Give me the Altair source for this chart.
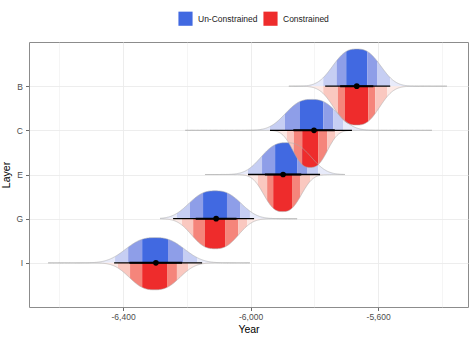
import altair as alt
import numpy as np
import pandas as pd

# ---------------- data ----------------
layers = ["B", "C", "E", "G", "I"]
groups = ["Un-Constrained", "Constrained"]

# Un-Constrained: interval edges (years) 95 / 80 / 50 %
unc_lo95 = [-5772, -5939, -6008, -6231, -6425]
unc_lo80 = [-5730, -5892, -5964, -6190, -6384]
unc_lo50 = [-5700, -5845, -5923, -6149, -6340]
unc_hi50 = [-5634, -5772, -5854, -6074, -6259]
unc_hi80 = [-5602, -5741, -5823, -6033, -6212]
unc_hi95 = [-5562, -5710, -5788, -6002, -6168]
unc_peak = [0.84, 0.70, 0.72, 0.63, 0.57]

# Constrained
con_lo95 = [-5772, -5886, -5977, -6215, -6416]
con_lo80 = [-5726, -5864, -5948, -6180, -6378]
con_lo50 = [-5704, -5838, -5929, -6143, -6340]
con_hi50 = [-5631, -5788, -5870, -6080, -6262]
con_hi80 = [-5609, -5760, -5845, -6039, -6231]
con_hi95 = [-5572, -5735, -5813, -6011, -6196]
con_peak = [0.88, 0.84, 0.84, 0.68, 0.61]

# sample range (thin tails)
tail_lo = [-5880, -6205, -6143, -6284, -6635]
tail_hi = [-5384, -5431, -5704, -5854, -6002]

# point + interval
pt_med = [-5667, -5801, -5898, -6108, -6297]
pi_lo95 = [-5766, -5939, -6008, -6243, -6428]
pi_hi95 = [-5562, -5682, -5782, -5989, -6152]
pi_lo66 = [-5719, -5866, -5955, -6172, -6380]
pi_hi66 = [-5615, -5736, -5841, -6044, -6215]

levels = ["dark", "medium", "light", "tail"]
blue_cols = ["#4169E1", "#8E9EE8", "#C6CEF3", "#E8EBFA"]
red_cols = ["#EE2C2C", "#F5857B", "#FAC8C0", "#FDEAE6"]

SHAPE_A, SHAPE_P = 1.47, 2.67

# ---------------- build tables ----------------
area_rows = []
line_rows = []
param = {
    "Un-Constrained": (unc_lo95, unc_lo80, unc_lo50, unc_hi50, unc_hi80, unc_hi95, unc_peak, 1),
    "Constrained": (con_lo95, con_lo80, con_lo50, con_hi50, con_hi80, con_hi95, con_peak, -1),
}
for i, L in enumerate(layers):
    pos = len(layers) - i
    for g in groups:
        lo95, lo80, lo50, hi50, hi80, hi95, peak, sign = param[g]
        e = [tail_lo[i], lo95[i], lo80[i], lo50[i], hi50[i], hi80[i], hi95[i], tail_hi[i]]
        c = (lo50[i] + hi50[i]) / 2
        w = (hi95[i] - lo95[i]) / 2
        xs = np.unique(np.concatenate([np.linspace(e[0], e[-1], 500), e]))
        hs = peak[i] * np.exp(-SHAPE_A * np.abs((xs - c) / w) ** SHAPE_P)
        seg_levels = ["tail", "light", "medium", "dark", "medium", "light", "tail"]
        for s in range(7):
            m = (xs >= e[s]) & (xs <= e[s + 1])
            for xv, hv in zip(xs[m], hs[m]):
                y_out = pos + sign * hv
                area_rows.append({
                    "layer": L, "group": g, "seg": f"{L}-{g}-{s}",
                    "key": f"{g}-{seg_levels[s]}",
                    "x": xv, "ylo": min(pos, y_out), "yhi": max(pos, y_out),
                })
        for xv, hv in zip(xs, hs):
            line_rows.append({"id": f"{L}-{g}", "group": g, "x": xv, "y": pos + sign * hv})

area_df = pd.DataFrame(area_rows)
line_df = pd.DataFrame(line_rows)

pi_df = pd.DataFrame({
    "layer": layers,
    "pos": [len(layers) - i for i in range(len(layers))],
    "med": pt_med, "lo95": pi_lo95, "hi95": pi_hi95, "lo66": pi_lo66, "hi66": pi_hi66,
})

fill_domain = [f"{g}-{lv}" for g in groups for lv in levels]
fill_range = blue_cols + red_cols

# ---------------- scales & axes ----------------
FONT = "Liberation Sans"
x_scale = alt.Scale(domain=[-6695, -5318], nice=False, zero=False)
y_scale = alt.Scale(domain=[0, 6], nice=False, zero=False)

major = "datum.value % 400 == 0"
x_axis = alt.Axis(
    title="Year",
    values=list(range(-6600, -5399, 200)),
    labelExpr=f"{major} ? replace(format(datum.value, ','), '\u2212', '-') : ''",
    tickOpacity={"condition": {"test": major, "value": 1}, "value": 0},
    gridWidth={"condition": {"test": major, "value": 0.9}, "value": 0.5},
    gridColor="#EBEBEB",
    domain=False, tickSize=3.5, tickColor="#444444", tickWidth=0.8,
    labelFontSize=8.5, labelColor="#4D4D4D", labelPadding=2,
    titleFontSize=10.5, titleColor="#000000", titleFontWeight="normal", titlePadding=3,
)
lab_list = ",".join(f"'{l}'" for l in layers[::-1])
y_axis = alt.Axis(
    title="Layer",
    values=[1, 2, 3, 4, 5],
    labelExpr=f"[{lab_list}][datum.value - 1]",
    gridColor="#EBEBEB", gridWidth=0.9,
    domain=False, tickSize=3.5, tickColor="#444444", tickWidth=0.8,
    labelFontSize=8.5, labelColor="#4D4D4D", labelPadding=3,
    titleFontSize=10.5, titleColor="#000000", titleFontWeight="normal", titlePadding=4,
)

fill_enc = alt.Fill("key:N", scale=alt.Scale(domain=fill_domain, range=fill_range), legend=None)

base_area = alt.Chart(area_df).mark_area(strokeWidth=0, opacity=1).encode(
    x=alt.X("x:Q", scale=x_scale, axis=x_axis),
    y=alt.Y("ylo:Q", scale=y_scale, axis=y_axis),
    y2="yhi:Q",
    fill=fill_enc,
    detail="seg:N",
)
blue_area = base_area.transform_filter(alt.datum.group == groups[0])
red_area = base_area.transform_filter(alt.datum.group == groups[1])

outline = alt.Chart(line_df).mark_line(color="#ADADAD", strokeWidth=0.6).encode(
    x="x:Q", y="y:Q", detail="id:N"
)

rule95 = alt.Chart(pi_df).mark_rule(color="black", strokeWidth=1.4).encode(
    x="lo95:Q", x2="hi95:Q", y="pos:Q"
)
rule66 = alt.Chart(pi_df).mark_rule(color="black", strokeWidth=2.0).encode(
    x="lo66:Q", x2="hi66:Q", y="pos:Q"
)
point = alt.Chart(pi_df).mark_circle(color="black", size=32, opacity=1).encode(
    x="med:Q", y="pos:Q"
)

legend_df = pd.DataFrame({"group": groups})
legend_layer = alt.Chart(legend_df).mark_square(opacity=0).encode(
    color=alt.Color(
        "group:N",
        scale=alt.Scale(domain=groups, range=[blue_cols[0], red_cols[0]]),
        legend=alt.Legend(
            title=None, orient="none", legendX=149, legendY=-31,
            direction="horizontal", symbolType="square", symbolSize=200,
            symbolOpacity=1, symbolStrokeWidth=0,
            labelFont=FONT, labelFontSize=8.5, labelColor="#1A1A1A",
            labelOffset=5, columnPadding=5, padding=0,
        ),
    )
)

chart = alt.layer(
    blue_area, red_area, outline, rule95, rule66, point, legend_layer
).properties(
    width=439, height=265,
    autosize=alt.AutoSizeParams(type="none"),
    padding={"left": 29, "top": 42, "right": 6, "bottom": 31},
    background="white",
).configure_view(
    stroke="#8C8C8C", strokeWidth=1
).configure_axis(
    labelFont=FONT, titleFont=FONT
).configure_legend(
    labelFont=FONT
)

chart.save("out.html", embed_options={"renderer": "svg", "actions": False})
